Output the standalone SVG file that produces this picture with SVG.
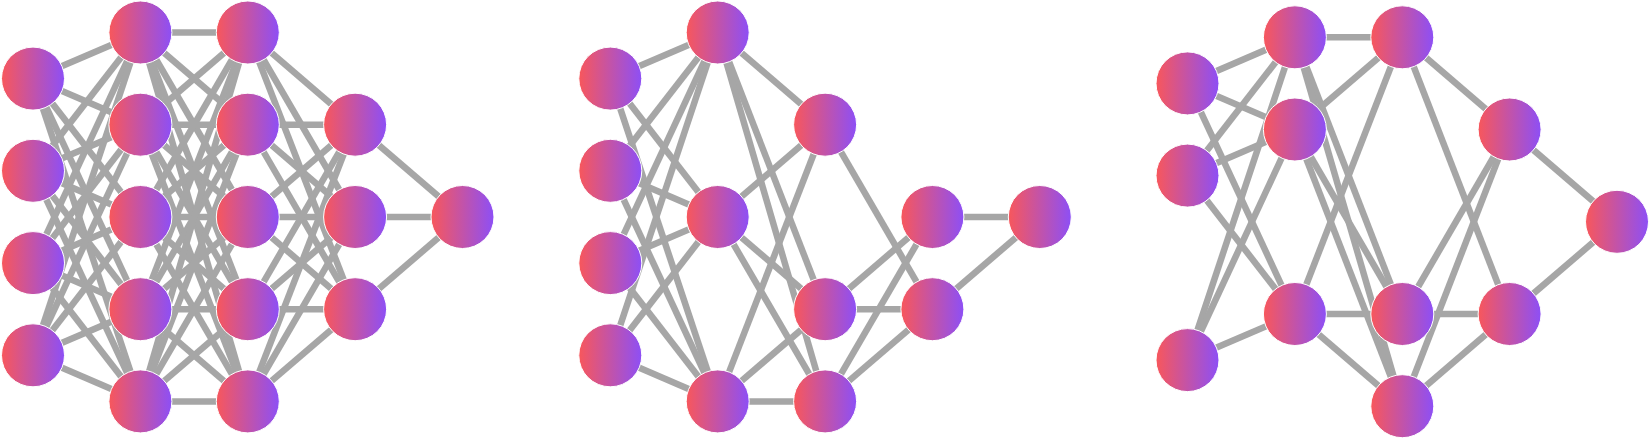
<svg xmlns="http://www.w3.org/2000/svg" width="1649" height="439" viewBox="0 0 1649 439">
<defs>
<linearGradient id="g" x1="0" y1="0" x2="1" y2="0">
<stop offset="0" stop-color="#F8575B"/>
<stop offset="1" stop-color="#8D4FF6"/>
</linearGradient>
<style>
.edges line{stroke:#a6a6a6;stroke-width:6.5;stroke-linecap:butt}
.node circle{fill:url(#g);stroke:#ffffff;stroke-width:1}
</style>
</defs>
<rect width="1649" height="439" fill="#ffffff"/>

<!-- Network 1 -->
<g id="net1">
<g id="net1-connectors" class="edges">
<line x1="33" y1="78.6" x2="140.4" y2="32.5"/><line x1="33" y1="78.6" x2="140.4" y2="124.7"/><line x1="33" y1="78.6" x2="140.4" y2="217"/><line x1="33" y1="78.6" x2="140.4" y2="309.2"/><line x1="33" y1="78.6" x2="140.4" y2="401.4"/>
<line x1="33" y1="170.8" x2="140.4" y2="32.5"/><line x1="33" y1="170.8" x2="140.4" y2="124.7"/><line x1="33" y1="170.8" x2="140.4" y2="217"/><line x1="33" y1="170.8" x2="140.4" y2="309.2"/><line x1="33" y1="170.8" x2="140.4" y2="401.4"/>
<line x1="33" y1="263.1" x2="140.4" y2="32.5"/><line x1="33" y1="263.1" x2="140.4" y2="124.7"/><line x1="33" y1="263.1" x2="140.4" y2="217"/><line x1="33" y1="263.1" x2="140.4" y2="309.2"/><line x1="33" y1="263.1" x2="140.4" y2="401.4"/>
<line x1="33" y1="355.3" x2="140.4" y2="32.5"/><line x1="33" y1="355.3" x2="140.4" y2="124.7"/><line x1="33" y1="355.3" x2="140.4" y2="217"/><line x1="33" y1="355.3" x2="140.4" y2="309.2"/><line x1="33" y1="355.3" x2="140.4" y2="401.4"/>
<line x1="140.4" y1="32.5" x2="247.8" y2="32.5"/><line x1="140.4" y1="32.5" x2="247.8" y2="124.7"/><line x1="140.4" y1="32.5" x2="247.8" y2="217"/><line x1="140.4" y1="32.5" x2="247.8" y2="309.2"/><line x1="140.4" y1="32.5" x2="247.8" y2="401.4"/>
<line x1="140.4" y1="124.7" x2="247.8" y2="32.5"/><line x1="140.4" y1="124.7" x2="247.8" y2="124.7"/><line x1="140.4" y1="124.7" x2="247.8" y2="217"/><line x1="140.4" y1="124.7" x2="247.8" y2="309.2"/><line x1="140.4" y1="124.7" x2="247.8" y2="401.4"/>
<line x1="140.4" y1="217" x2="247.8" y2="32.5"/><line x1="140.4" y1="217" x2="247.8" y2="124.7"/><line x1="140.4" y1="217" x2="247.8" y2="217"/><line x1="140.4" y1="217" x2="247.8" y2="309.2"/><line x1="140.4" y1="217" x2="247.8" y2="401.4"/>
<line x1="140.4" y1="309.2" x2="247.8" y2="32.5"/><line x1="140.4" y1="309.2" x2="247.8" y2="124.7"/><line x1="140.4" y1="309.2" x2="247.8" y2="217"/><line x1="140.4" y1="309.2" x2="247.8" y2="309.2"/><line x1="140.4" y1="309.2" x2="247.8" y2="401.4"/>
<line x1="140.4" y1="401.4" x2="247.8" y2="32.5"/><line x1="140.4" y1="401.4" x2="247.8" y2="124.7"/><line x1="140.4" y1="401.4" x2="247.8" y2="217"/><line x1="140.4" y1="401.4" x2="247.8" y2="309.2"/><line x1="140.4" y1="401.4" x2="247.8" y2="401.4"/>
<line x1="247.8" y1="32.5" x2="355.1" y2="124.7"/><line x1="247.8" y1="32.5" x2="355.1" y2="217"/><line x1="247.8" y1="32.5" x2="355.1" y2="309.2"/>
<line x1="247.8" y1="124.7" x2="355.1" y2="124.7"/><line x1="247.8" y1="124.7" x2="355.1" y2="217"/><line x1="247.8" y1="124.7" x2="355.1" y2="309.2"/>
<line x1="247.8" y1="217" x2="355.1" y2="124.7"/><line x1="247.8" y1="217" x2="355.1" y2="217"/><line x1="247.8" y1="217" x2="355.1" y2="309.2"/>
<line x1="247.8" y1="309.2" x2="355.1" y2="124.7"/><line x1="247.8" y1="309.2" x2="355.1" y2="217"/><line x1="247.8" y1="309.2" x2="355.1" y2="309.2"/>
<line x1="247.8" y1="401.4" x2="355.1" y2="124.7"/><line x1="247.8" y1="401.4" x2="355.1" y2="217"/><line x1="247.8" y1="401.4" x2="355.1" y2="309.2"/>
<line x1="355.1" y1="124.7" x2="462.5" y2="217"/><line x1="355.1" y1="217" x2="462.5" y2="217"/><line x1="355.1" y1="309.2" x2="462.5" y2="217"/>
</g>
<g id="n1-i1" class="node"><circle cx="33" cy="78.6" r="31.5"/></g>
<g id="n1-i2" class="node"><circle cx="33" cy="170.8" r="31.5"/></g>
<g id="n1-i3" class="node"><circle cx="33" cy="263.1" r="31.5"/></g>
<g id="n1-i4" class="node"><circle cx="33" cy="355.3" r="31.5"/></g>
<g id="n1-a1" class="node"><circle cx="140.4" cy="32.5" r="31.5"/></g>
<g id="n1-a2" class="node"><circle cx="140.4" cy="124.7" r="31.5"/></g>
<g id="n1-a3" class="node"><circle cx="140.4" cy="217" r="31.5"/></g>
<g id="n1-a4" class="node"><circle cx="140.4" cy="309.2" r="31.5"/></g>
<g id="n1-a5" class="node"><circle cx="140.4" cy="401.4" r="31.5"/></g>
<g id="n1-b1" class="node"><circle cx="247.8" cy="32.5" r="31.5"/></g>
<g id="n1-b2" class="node"><circle cx="247.8" cy="124.7" r="31.5"/></g>
<g id="n1-b3" class="node"><circle cx="247.8" cy="217" r="31.5"/></g>
<g id="n1-b4" class="node"><circle cx="247.8" cy="309.2" r="31.5"/></g>
<g id="n1-b5" class="node"><circle cx="247.8" cy="401.4" r="31.5"/></g>
<g id="n1-c1" class="node"><circle cx="355.1" cy="124.7" r="31.5"/></g>
<g id="n1-c2" class="node"><circle cx="355.1" cy="217" r="31.5"/></g>
<g id="n1-c3" class="node"><circle cx="355.1" cy="309.2" r="31.5"/></g>
<g id="n1-o" class="node"><circle cx="462.5" cy="217" r="31.5"/></g>
</g>

<!-- Network 2 -->
<g id="net2" transform="translate(577.3,0)">
<g id="net2-connectors" class="edges">
<line x1="33" y1="78.6" x2="140.4" y2="32.5"/><line x1="33" y1="78.6" x2="140.4" y2="217"/><line x1="33" y1="78.6" x2="140.4" y2="401.4"/>
<line x1="33" y1="170.8" x2="140.4" y2="32.5"/><line x1="33" y1="170.8" x2="140.4" y2="217"/><line x1="33" y1="170.8" x2="140.4" y2="401.4"/>
<line x1="33" y1="263.1" x2="140.4" y2="32.5"/><line x1="33" y1="263.1" x2="140.4" y2="217"/><line x1="33" y1="263.1" x2="140.4" y2="401.4"/>
<line x1="33" y1="355.3" x2="140.4" y2="32.5"/><line x1="33" y1="355.3" x2="140.4" y2="217"/><line x1="33" y1="355.3" x2="140.4" y2="401.4"/>
<line x1="140.4" y1="32.5" x2="247.8" y2="124.7"/><line x1="140.4" y1="32.5" x2="247.8" y2="309.2"/><line x1="140.4" y1="32.5" x2="247.8" y2="401.4"/>
<line x1="140.4" y1="217" x2="247.8" y2="124.7"/><line x1="140.4" y1="217" x2="247.8" y2="309.2"/><line x1="140.4" y1="217" x2="247.8" y2="401.4"/>
<line x1="140.4" y1="401.4" x2="247.8" y2="124.7"/><line x1="140.4" y1="401.4" x2="247.8" y2="309.2"/><line x1="140.4" y1="401.4" x2="247.8" y2="401.4"/>
<line x1="247.8" y1="124.7" x2="355.1" y2="309.2"/>
<line x1="247.8" y1="309.2" x2="355.1" y2="217"/><line x1="247.8" y1="309.2" x2="355.1" y2="309.2"/>
<line x1="247.8" y1="401.4" x2="355.1" y2="217"/><line x1="247.8" y1="401.4" x2="355.1" y2="309.2"/>
<line x1="355.1" y1="217" x2="462.5" y2="217"/><line x1="355.1" y1="309.2" x2="462.5" y2="217"/>
</g>
<g id="n2-i1" class="node"><circle cx="33" cy="78.6" r="31.5"/></g>
<g id="n2-i2" class="node"><circle cx="33" cy="170.8" r="31.5"/></g>
<g id="n2-i3" class="node"><circle cx="33" cy="263.1" r="31.5"/></g>
<g id="n2-i4" class="node"><circle cx="33" cy="355.3" r="31.5"/></g>
<g id="n2-a1" class="node"><circle cx="140.4" cy="32.5" r="31.5"/></g>
<g id="n2-a3" class="node"><circle cx="140.4" cy="217" r="31.5"/></g>
<g id="n2-a5" class="node"><circle cx="140.4" cy="401.4" r="31.5"/></g>
<g id="n2-b2" class="node"><circle cx="247.8" cy="124.7" r="31.5"/></g>
<g id="n2-b4" class="node"><circle cx="247.8" cy="309.2" r="31.5"/></g>
<g id="n2-b5" class="node"><circle cx="247.8" cy="401.4" r="31.5"/></g>
<g id="n2-c3" class="node"><circle cx="355.1" cy="217" r="31.5"/></g>
<g id="n2-c4" class="node"><circle cx="355.1" cy="309.2" r="31.5"/></g>
<g id="n2-o" class="node"><circle cx="462.5" cy="217" r="31.5"/></g>
</g>

<!-- Network 3 -->
<g id="net3" transform="translate(1154.5,4.8)">
<g id="net3-connectors" class="edges">
<line x1="33" y1="78.6" x2="140.4" y2="32.5"/><line x1="33" y1="78.6" x2="140.4" y2="124.7"/><line x1="33" y1="78.6" x2="140.4" y2="309.2"/>
<line x1="33" y1="170.8" x2="140.4" y2="32.5"/><line x1="33" y1="170.8" x2="140.4" y2="124.7"/><line x1="33" y1="170.8" x2="140.4" y2="309.2"/>
<line x1="33" y1="355.3" x2="140.4" y2="32.5"/><line x1="33" y1="355.3" x2="140.4" y2="124.7"/><line x1="33" y1="355.3" x2="140.4" y2="309.2"/>
<line x1="140.4" y1="32.5" x2="247.8" y2="32.5"/><line x1="140.4" y1="32.5" x2="247.8" y2="309.2"/><line x1="140.4" y1="32.5" x2="247.8" y2="401.4"/>
<line x1="140.4" y1="124.7" x2="247.8" y2="32.5"/><line x1="140.4" y1="124.7" x2="247.8" y2="309.2"/><line x1="140.4" y1="124.7" x2="247.8" y2="401.4"/>
<line x1="140.4" y1="309.2" x2="247.8" y2="32.5"/><line x1="140.4" y1="309.2" x2="247.8" y2="309.2"/><line x1="140.4" y1="309.2" x2="247.8" y2="401.4"/>
<line x1="247.8" y1="32.5" x2="355.1" y2="124.7"/><line x1="247.8" y1="32.5" x2="355.1" y2="309.2"/>
<line x1="247.8" y1="309.2" x2="355.1" y2="124.7"/><line x1="247.8" y1="309.2" x2="355.1" y2="309.2"/>
<line x1="247.8" y1="401.4" x2="355.1" y2="124.7"/><line x1="247.8" y1="401.4" x2="355.1" y2="309.2"/>
<line x1="355.1" y1="124.7" x2="462.5" y2="217"/><line x1="355.1" y1="309.2" x2="462.5" y2="217"/>
</g>
<g id="n3-i1" class="node"><circle cx="33" cy="78.6" r="31.5"/></g>
<g id="n3-i2" class="node"><circle cx="33" cy="170.8" r="31.5"/></g>
<g id="n3-i4" class="node"><circle cx="33" cy="355.3" r="31.5"/></g>
<g id="n3-a1" class="node"><circle cx="140.4" cy="32.5" r="31.5"/></g>
<g id="n3-a2" class="node"><circle cx="140.4" cy="124.7" r="31.5"/></g>
<g id="n3-a4" class="node"><circle cx="140.4" cy="309.2" r="31.5"/></g>
<g id="n3-b1" class="node"><circle cx="247.8" cy="32.5" r="31.5"/></g>
<g id="n3-b4" class="node"><circle cx="247.8" cy="309.2" r="31.5"/></g>
<g id="n3-b5" class="node"><circle cx="247.8" cy="401.4" r="31.5"/></g>
<g id="n3-c2" class="node"><circle cx="355.1" cy="124.7" r="31.5"/></g>
<g id="n3-c4" class="node"><circle cx="355.1" cy="309.2" r="31.5"/></g>
<g id="n3-o" class="node"><circle cx="462.5" cy="217" r="31.5"/></g>
</g>
</svg>
